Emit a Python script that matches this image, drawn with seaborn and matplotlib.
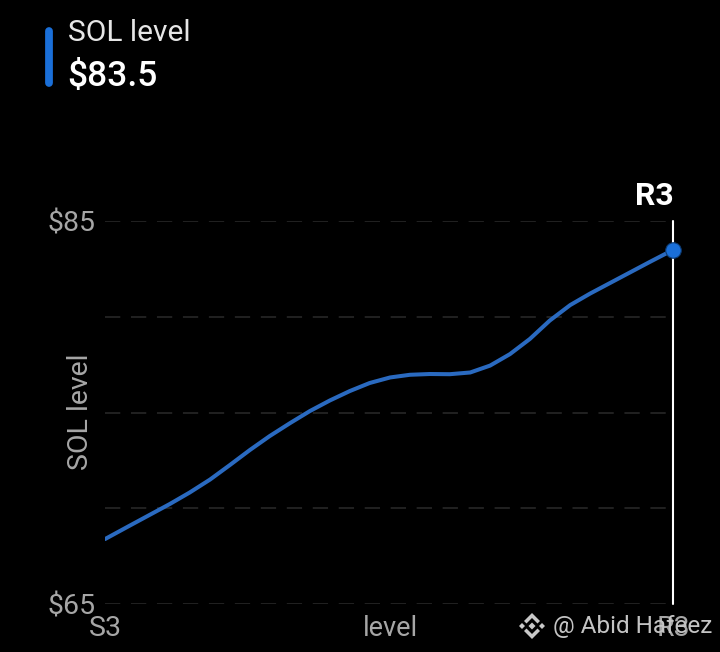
import matplotlib
matplotlib.use("Agg")
import matplotlib.pyplot as plt
import seaborn as sns
import pandas as pd
from matplotlib.lines import Line2D
from matplotlib.patches import Polygon
from matplotlib.transforms import Affine2D

title = "SOL level"
current_label = "$83.5"
watermark = "@ Abid Hafeez"
x_label = "level"
y_label = "SOL level"
marker_label = "R3"
x_ticks = [0, 100]
x_tick_labels = ["S3", "R3"]
y_ticks = [65, 70, 75, 80, 85]
y_tick_labels = ["$65", "", "", "", "$85"]
position = [0, 4.4, 7.9, 11.4, 14.9, 18.5, 22, 25.5, 29, 32.6, 36.1, 39.6, 43.1, 46.6, 50.2,
            53.7, 57.2, 60.7, 64.3, 67.8, 71.3, 74.8, 78.3, 81.9, 85.4, 88.9, 92.4, 95.9, 100]
price = [68.39, 69.10, 69.66, 70.22, 70.82, 71.50, 72.26, 73.04, 73.77, 74.45, 75.08, 75.63, 76.12, 76.54, 76.83,
         76.97, 77.01, 77.00, 77.09, 77.45, 78.05, 78.84, 79.80, 80.61, 81.21, 81.76, 82.31, 82.86, 83.49]

W, H = 720, 652
BLUE = "#2a6ac0"
DOT = "#1a6fd8"
GREY = "#a6a6a6"

sns.set_theme(style="dark", rc={"figure.facecolor": "black", "axes.facecolor": "black"})
plt.rcParams["font.family"] = ["Roboto", "DejaVu Sans"]

fig = plt.figure(figsize=(W / 100, H / 100), dpi=100)
ax = fig.add_axes([105 / W, 1 - 604 / H, (673 - 105) / W, (604 - 221) / H])
df = pd.DataFrame({"position": position, "price": price})

ax.axvline(100, color="white", lw=1.5, zorder=2, clip_on=False)
sns.lineplot(data=df, x="position", y="price", ax=ax, color=BLUE, lw=2.9, zorder=3,
             solid_capstyle="round", solid_joinstyle="round", errorbar=None, estimator=None)
sns.scatterplot(data=df.tail(1), x="position", y="price", ax=ax, color=DOT, s=125,
                edgecolor="#0d3a70", linewidth=0.8, zorder=4, clip_on=False)

ax.set_xlim(0, 100)
ax.set_ylim(65, 85)
ax.set_xticks(x_ticks, x_tick_labels)
ax.set_yticks(y_ticks, y_tick_labels)
ax.tick_params(axis="both", length=0, labelsize=20.5, labelcolor=GREY)
ax.tick_params(axis="y", pad=7)
ax.tick_params(axis="x", pad=8)
ax.yaxis.grid(True, color="#2b2b2b", lw=1.1, linestyle=(0, (10, 7)))
ax.xaxis.grid(False)
for s in ax.spines.values():
    s.set_visible(False)
ax.set_xlabel("")
ax.set_ylabel("")

def t(px, py, s, **kw):
    return fig.text(px / W, 1 - py / H, s, **kw)

t(390, 629, x_label, ha="center", va="center", fontsize=19.5, color=GREY)
t(80, 412, y_label, ha="center", va="center", rotation=90, fontsize=20.5, color=GREY)
t(68, 33, title, ha="left", va="center", fontsize=21.5, color="#e6e6e6")
t(67.5, 77, current_label, ha="left", va="center", fontsize=25.5, color="white", fontweight="medium")
t(654, 196, marker_label, ha="center", va="center", fontsize=23, color="white", fontweight="bold")
t(553, 626, watermark, ha="left", va="center", fontsize=17.5, color="#c4c4c4")

fig.add_artist(Line2D([49 / W, 49 / W], [1 - 31 / H, 1 - 83 / H], color=DOT, lw=5.6,
                      solid_capstyle="round", transform=fig.transFigure))

# Exchange logo beside the watermark, in pixel units around its centre
logo = Affine2D().scale(1, -1).translate(532, H - 626) + Affine2D().scale(1 / W, 1 / H) + fig.transFigure
shapes = [
    [(0, -3.5), (3.5, 0), (0, 3.5), (-3.5, 0)],
    [(-13, 0), (-10, -3), (-7, 0), (-10, 3)],
    [(13, 0), (10, -3), (7, 0), (10, 3)],
    [(0, -13), (8, -5), (5.5, -2.5), (0, -8), (-5.5, -2.5), (-8, -5)],
    [(0, 13), (8, 5), (5.5, 2.5), (0, 8), (-5.5, 2.5), (-8, 5)],
]
for pts in shapes:
    fig.add_artist(Polygon(pts, closed=True, facecolor="#c8c8c8", edgecolor="none", transform=logo))

fig.savefig("out.png", dpi=100, facecolor="black")
